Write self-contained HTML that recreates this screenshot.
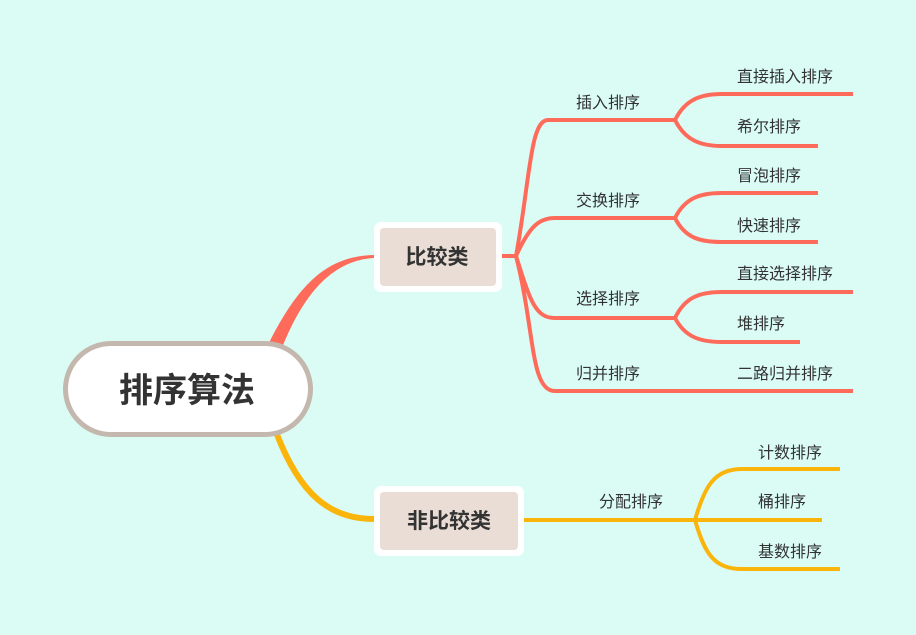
<!DOCTYPE html>
<html><head><meta charset="utf-8"><style>
html,body{margin:0;padding:0;background:#dafcf5;}
svg{display:block;}
text{font-family:"Liberation Sans","Noto Sans CJK SC",sans-serif;fill:#333;}
</style></head><body>
<svg width="916" height="635" viewBox="0 0 916 635" xmlns="http://www.w3.org/2000/svg">
<rect width="916" height="635" fill="#dafcf5"/>
<path d="M268,345 C300,280 330,256 374,255 L374,258 C335,260 305,290 282,348 Z" fill="#ff6b5b"/>
<path d="M276,432 C300,495 330,519 374,519" fill="none" stroke="#fbb40a" stroke-width="6"/>
<g fill="none" stroke="#ff6b5b" stroke-width="4" stroke-linecap="butt">
<path d="M500,256 L516,256"/>
<path d="M516,256 C530,180 530,120 548,120 L675,120"/>
<path d="M516,256 C530,225 540,218 555,218 L675,218"/>
<path d="M516,256 C530,300 535,318 555,318 L675,318"/>
<path d="M516,256 C535,330 530,391 555,391 L853,391"/>
<path d="M675,120 C685,100 700,94 722,94 L853,94"/>
<path d="M675,120 C685,140 700,146 722,146 L818,146"/>
<path d="M675,218 C685,198 700,193 722,193 L818,193"/>
<path d="M675,218 C685,238 700,242 722,242 L818,242"/>
<path d="M675,318 C685,297 700,292 722,292 L853,292"/>
<path d="M675,318 C685,337 700,342 722,342 L800,342"/>
</g>
<g fill="none" stroke="#fbb40a" stroke-width="4">
<path d="M522,520 L695,520"/>
<path d="M695,520 C705,485 715,469 742,469 L840,469"/>
<path d="M695,520 L822,520"/>
<path d="M695,520 C705,555 715,569 742,569 L840,569"/>
</g>
<rect x="65.5" y="343.5" width="245" height="91" rx="45.5" fill="#fff" stroke="#c4b8ae" stroke-width="5"/>
<text x="187" y="402" font-size="34" font-weight="bold" text-anchor="middle">排序算法</text>
<rect x="374" y="222" width="128" height="70" rx="7" fill="#fff"/>
<rect x="380" y="228" width="116" height="58" rx="4" fill="#e9ddd6"/>
<text x="437" y="264" font-size="21" font-weight="bold" text-anchor="middle">比较类</text>
<rect x="374" y="486" width="150" height="70" rx="7" fill="#fff"/>
<rect x="380" y="492" width="138" height="58" rx="4" fill="#e9ddd6"/>
<text x="449" y="528" font-size="21" font-weight="bold" text-anchor="middle">非比较类</text>
<g font-size="16">
<text x="576" y="108">插入排序</text>
<text x="576" y="206">交换排序</text>
<text x="576" y="304">选择排序</text>
<text x="576" y="379">归并排序</text>
<text x="737" y="82">直接插入排序</text>
<text x="737" y="132">希尔排序</text>
<text x="737" y="181">冒泡排序</text>
<text x="737" y="231">快速排序</text>
<text x="737" y="279">直接选择排序</text>
<text x="737" y="329">堆排序</text>
<text x="737" y="379">二路归并排序</text>
<text x="599" y="507">分配排序</text>
<text x="758" y="458">计数排序</text>
<text x="758" y="507">桶排序</text>
<text x="758" y="557">基数排序</text>
</g>
</svg>
</body></html>
